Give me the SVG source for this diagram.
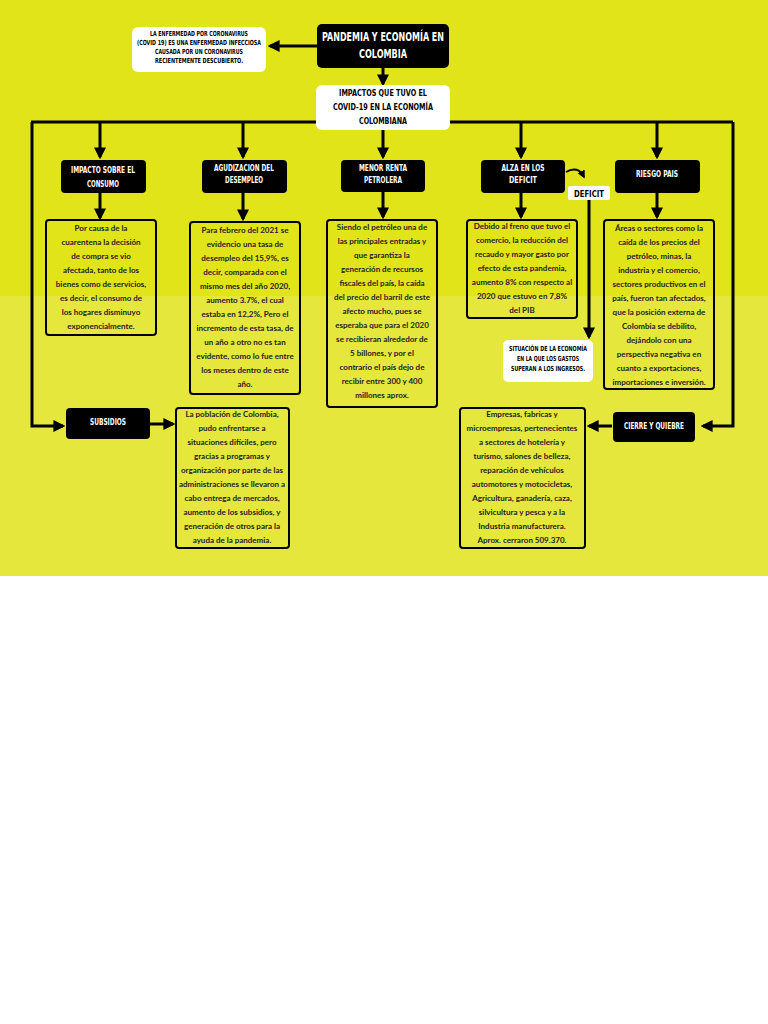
<svg xmlns="http://www.w3.org/2000/svg" width="768" height="1024" viewBox="0 0 768 1024">
<style>
.h{font-family:"DejaVu Sans Condensed","Liberation Sans",sans-serif;font-weight:bold;fill:#fff;text-anchor:middle}
.hb{font-family:"DejaVu Sans Condensed","Liberation Sans",sans-serif;font-weight:bold;fill:#000;text-anchor:middle}
.t{font-family:Lato,"Liberation Sans",sans-serif;font-weight:bold;font-size:8px;fill:#222;text-anchor:middle}
.k{fill:#000}
.w{fill:#fff}
.tb{fill:none;stroke:#000;stroke-width:2}
.c{fill:none;stroke:#000;stroke-width:3}
</style>
<defs><marker id="a" viewBox="0 0 10 10" refX="8" refY="5" markerWidth="4" markerHeight="4" orient="auto"><path d="M0,0L10,5L0,10z" fill="#000"/></marker></defs>
<rect width="768" height="1024" fill="#fff"/>
<rect width="768" height="296" fill="#e2e41a"/>
<rect y="296" width="768" height="280" fill="#e5e73c"/>
<g id="connectors">
<path class="c" d="M317,46H270" marker-end="url(#a)"/>
<path class="c" d="M383,68V84" marker-end="url(#a)"/>
<path class="c" d="M31,122H733"/>
<path class="c" d="M100,122V157" marker-end="url(#a)"/>
<path class="c" d="M243,122V157" marker-end="url(#a)"/>
<path class="c" d="M383,130V157" marker-end="url(#a)"/>
<path class="c" d="M521,122V157" marker-end="url(#a)"/>
<path class="c" d="M657,122V157" marker-end="url(#a)"/>
<path class="c" d="M100,193V218" marker-end="url(#a)"/>
<path class="c" d="M243,193V219" marker-end="url(#a)"/>
<path class="c" d="M383,192V217" marker-end="url(#a)"/>
<path class="c" d="M521,193V217" marker-end="url(#a)"/>
<path class="c" d="M657,193V217" marker-end="url(#a)"/>
<path class="c" d="M32,122V426H63" marker-end="url(#a)"/>
<path class="c" d="M733,122V426H703" marker-end="url(#a)"/>
<path class="c" d="M150,424H173" marker-end="url(#a)"/>
<path class="c" d="M612,426H589" marker-end="url(#a)"/>
<path fill="none" stroke="#000" stroke-width="2" d="M566,172Q578,165 584,177" marker-end="url(#a)"/>
<path class="c" d="M589,200V337" marker-end="url(#a)"/>
</g>
<g id="info"><rect class="w" x="132" y="27" width="134" height="45" rx="6"/>
<text class="hb" font-size="7" lengthAdjust="spacingAndGlyphs"><tspan x="199" y="36" textLength="98" lengthAdjust="spacingAndGlyphs">LA ENFERMEDAD POR CORONAVIRUS</tspan><tspan x="199" y="45" textLength="124" lengthAdjust="spacingAndGlyphs">(COVID 19) ES UNA ENFERMEDAD INFECCIOSA</tspan><tspan x="199" y="54" textLength="88" lengthAdjust="spacingAndGlyphs">CAUSADA POR UN CORONAVIRUS</tspan><tspan x="199" y="63" textLength="88" lengthAdjust="spacingAndGlyphs">RECIENTEMENTE DESCUBIERTO.</tspan></text></g>
<g id="title"><rect class="k" x="317" y="24" width="132" height="44" rx="5"/>
<text class="h" font-size="11.5"><tspan x="383" y="41" textLength="122" lengthAdjust="spacingAndGlyphs">PANDEMIA Y ECONOMÍA EN</tspan><tspan x="383" y="58" textLength="48" lengthAdjust="spacingAndGlyphs">COLOMBIA</tspan></text></g>
<g id="impactos"><rect class="w" x="316" y="85" width="134" height="45" rx="6"/>
<text class="hb" font-size="9.5"><tspan x="383" y="96" textLength="88" lengthAdjust="spacingAndGlyphs">IMPACTOS QUE TUVO EL</tspan><tspan x="383" y="110" textLength="100" lengthAdjust="spacingAndGlyphs">COVID-19 EN LA ECONOMÍA</tspan><tspan x="383" y="124" textLength="48" lengthAdjust="spacingAndGlyphs">COLOMBIANA</tspan></text></g>
<g id="n1"><rect class="k" x="61" y="160" width="85" height="33" rx="4"/><text class="h" font-size="8.5"><tspan x="103" y="173" textLength="64" lengthAdjust="spacingAndGlyphs">IMPACTO SOBRE EL</tspan><tspan x="103" y="187" textLength="32" lengthAdjust="spacingAndGlyphs">CONSUMO</tspan></text></g>
<g id="n2"><rect class="k" x="202" y="160" width="85" height="33" rx="4"/><text class="h" font-size="8.5"><tspan x="244" y="171" textLength="60" lengthAdjust="spacingAndGlyphs">AGUDIZACION DEL</tspan><tspan x="244" y="183" textLength="38" lengthAdjust="spacingAndGlyphs">DESEMPLEO</tspan></text></g>
<g id="n3"><rect class="k" x="341" y="160" width="84" height="32" rx="4"/><text class="h" font-size="8.5"><tspan x="383" y="171" textLength="48" lengthAdjust="spacingAndGlyphs">MENOR RENTA</tspan><tspan x="383" y="183" textLength="38" lengthAdjust="spacingAndGlyphs">PETROLERA</tspan></text></g>
<g id="n4"><rect class="k" x="481" y="160" width="84" height="33" rx="4"/><text class="h" font-size="8.5"><tspan x="523" y="171" textLength="43" lengthAdjust="spacingAndGlyphs">ALZA EN LOS</tspan><tspan x="523" y="183" textLength="28" lengthAdjust="spacingAndGlyphs">DEFICIT</tspan></text></g>
<g id="n5"><rect class="k" x="615" y="160" width="85" height="33" rx="4"/><text class="h" font-size="8.5"><tspan x="657" y="177" textLength="42" lengthAdjust="spacingAndGlyphs">RIESGO PAIS</tspan></text></g>
<g id="deficit"><rect class="w" x="568" y="186" width="42" height="14" rx="2"/><text class="hb" font-size="8.5" x="589" y="197" textLength="30" lengthAdjust="spacingAndGlyphs">DEFICIT</text></g>
<g id="situacion"><rect class="w" x="503" y="340" width="90" height="42" rx="5"/><text class="hb" font-size="7"><tspan x="548" y="351" textLength="78" lengthAdjust="spacingAndGlyphs">SITUACIÓN DE LA ECONOMÍA</tspan><tspan x="548" y="361" textLength="62" lengthAdjust="spacingAndGlyphs">EN LA QUE LOS GASTOS</tspan><tspan x="548" y="371" textLength="74" lengthAdjust="spacingAndGlyphs">SUPERAN A LOS INGRESOS.</tspan></text></g>
<g id="t1"><rect class="tb" x="46" y="220" width="110" height="115" rx="3"/><text class="t"><tspan x="101" y="231">Por causa de la</tspan><tspan x="101" y="245">cuarentena  la decisión</tspan><tspan x="101" y="259">de compra se vio</tspan><tspan x="101" y="273">afectada, tanto de los</tspan><tspan x="101" y="287">bienes como de servicios,</tspan><tspan x="101" y="301">es decir, el consumo de</tspan><tspan x="101" y="315">los hogares disminuyo</tspan><tspan x="101" y="329">exponencialmente.</tspan></text></g>
<g id="t2"><rect class="tb" x="190" y="222" width="110" height="172" rx="3"/><text class="t"><tspan x="245" y="233">Para febrero del 2021 se</tspan><tspan x="245" y="247">evidencio una tasa de</tspan><tspan x="245" y="261">desempleo del 15,9%, es</tspan><tspan x="245" y="275">decir, comparada con el</tspan><tspan x="245" y="289">mismo mes del año 2020,</tspan><tspan x="245" y="303">aumento 3.7%, el cual</tspan><tspan x="245" y="317">estaba en 12,2%, Pero el</tspan><tspan x="245" y="331">incremento de esta tasa, de</tspan><tspan x="245" y="345">un año a otro no es tan</tspan><tspan x="245" y="359">evidente, como lo fue entre</tspan><tspan x="245" y="373">los meses dentro de este</tspan><tspan x="245" y="387">año.</tspan></text></g>
<g id="t3"><rect class="tb" x="327" y="220" width="110" height="187" rx="3"/><text class="t"><tspan x="382" y="230">Siendo el petróleo una de</tspan><tspan x="382" y="244">las principales entradas y</tspan><tspan x="382" y="258">que garantiza la</tspan><tspan x="382" y="272">generación de recursos</tspan><tspan x="382" y="286">fiscales del país, la caída</tspan><tspan x="382" y="300">del precio del barril de este</tspan><tspan x="382" y="314">afecto mucho, pues se</tspan><tspan x="382" y="328">esperaba que para el 2020</tspan><tspan x="382" y="342">se recibieran alrededor de</tspan><tspan x="382" y="356">5 billones, y por el</tspan><tspan x="382" y="370">contrario  el país dejo de</tspan><tspan x="382" y="384">recibir entre 300 y 400</tspan><tspan x="382" y="398">millones aprox.</tspan></text></g>
<g id="t4"><rect class="tb" x="467" y="220" width="110" height="98" rx="3"/><text class="t"><tspan x="522" y="229">Debido al freno que tuvo el</tspan><tspan x="522" y="243">comercio, la reducción del</tspan><tspan x="522" y="257">recaudo y mayor gasto por</tspan><tspan x="522" y="271">efecto de esta pandemia,</tspan><tspan x="522" y="285">aumento 8% con respecto al</tspan><tspan x="522" y="299">2020 que estuvo en 7,8%</tspan><tspan x="522" y="313">del PIB</tspan></text></g>
<g id="t5"><rect class="tb" x="604" y="220" width="110" height="169" rx="3"/><text class="t"><tspan x="659" y="231">Áreas o sectores como la</tspan><tspan x="659" y="245">caída de los precios del</tspan><tspan x="659" y="259">petróleo, minas, la</tspan><tspan x="659" y="273">industria y el comercio,</tspan><tspan x="659" y="287">sectores productivos en el</tspan><tspan x="659" y="301">país, fueron tan afectados,</tspan><tspan x="659" y="315">que la posición externa de</tspan><tspan x="659" y="329">Colombia se debilito,</tspan><tspan x="659" y="343">dejándolo con una</tspan><tspan x="659" y="357">perspectiva negativa en</tspan><tspan x="659" y="371">cuanto a exportaciones,</tspan><tspan x="659" y="385">importaciones e inversión.</tspan></text></g>
<g id="subsidios"><rect class="k" x="66" y="408" width="84" height="31" rx="4"/><text class="h" font-size="8.5" x="108" y="425" textLength="36" lengthAdjust="spacingAndGlyphs">SUBSIDIOS</text></g>
<g id="t6"><rect class="tb" x="176" y="408" width="113" height="140" rx="3"/><text class="t" font-size="7.6"><tspan x="232" y="417">La población de Colombia,</tspan><tspan x="232" y="431">pudo enfrentarse a</tspan><tspan x="232" y="445">situaciones difíciles, pero</tspan><tspan x="232" y="459">gracias a programas y</tspan><tspan x="232" y="473">organización por parte de las</tspan><tspan x="232" y="487">administraciones se llevaron a</tspan><tspan x="232" y="501">cabo entrega de mercados,</tspan><tspan x="232" y="515">aumento de los subsidios, y</tspan><tspan x="232" y="529">generación de otros para la</tspan><tspan x="232" y="543">ayuda de la pandemia.</tspan></text></g>
<g id="cierre"><rect class="k" x="613" y="412" width="82" height="30" rx="4"/><text class="h" font-size="8.5" x="654" y="429" textLength="60" lengthAdjust="spacingAndGlyphs">CIERRE Y QUIEBRE</text></g>
<g id="t7"><rect class="tb" x="460" y="408" width="125" height="140" rx="3"/><text class="t" font-size="7.6"><tspan x="522" y="417">Empresas, fabricas y</tspan><tspan x="522" y="431">microempresas, pertenecientes</tspan><tspan x="522" y="445">a sectores de hotelería y</tspan><tspan x="522" y="459">turismo, salones de belleza,</tspan><tspan x="522" y="473">reparación de vehículos</tspan><tspan x="522" y="487">automotores y motocicletas,</tspan><tspan x="522" y="501">Agricultura, ganadería, caza,</tspan><tspan x="522" y="515">silvicultura y pesca y a la</tspan><tspan x="522" y="529">Industria manufacturera.</tspan><tspan x="522" y="543">Aprox. cerraron 509.370.</tspan></text></g>
</svg>
